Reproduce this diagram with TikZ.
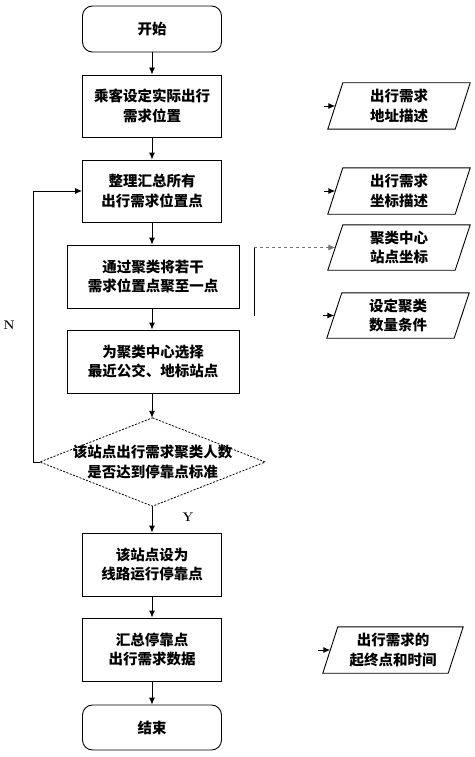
\documentclass[tikz,border=0pt]{standalone}
\usepackage{fontspec}
\newfontfamily\cjk{Noto Sans CJK SC}
\usetikzlibrary{arrows.meta,shapes.geometric,calc}
\newcommand\cjkf{\cjk\bfseries\fontsize{14.5}{19.5}\selectfont}
\newcommand\drawpara[1]{\draw[line width=0.9pt] ([xshift=15pt]#1.north west) -- (#1.north east) -- ([xshift=-15pt]#1.south east) -- (#1.south west) -- cycle;}
\begin{document}
\begin{tikzpicture}[x=1pt,y=-1pt,
  box/.style={draw, line width=0.9pt, minimum width=139pt, minimum height=62pt, align=center, font=\cjkf, inner sep=0pt},
  widebox/.style={box, minimum width=172pt, minimum height=63pt},
  term/.style={box, rounded corners=10pt, minimum height=46pt},
  para/.style={minimum width=142pt, minimum height=46pt, align=center, font=\cjkf, inner sep=0pt},
  decision/.style={minimum width=225pt, minimum height=88pt, inner sep=0pt, align=center, font=\cjkf},
  dotline/.style={line width=0.8pt, dash pattern=on 2pt off 1.5pt},
  arr/.style={line width=0.9pt, -{Latex[length=7pt,width=6pt]}},
  lab/.style={font=\bfseries\fontsize{12.5}{12.5}\selectfont}]
\useasboundingbox (0,0) rectangle (474,757);
% main column
\node[term] (start) at (152,29) {开始};
\node[box] (b1) at (152,106) {乘客设定实际出行\\需求位置};
\node[box] (b2) at (152,191) {整理汇总所有\\出行需求位置点};
\node[widebox] (b3) at (153,276.5) {通过聚类将若干\\需求位置点聚至一点};
\node[widebox] (b4) at (153,361.5) {为聚类中心选择\\最近公交、地标站点};
\node[decision] (d) at (152.5,462) {该站点出行需求聚类人数\\是否达到停靠点标准};
\draw[dotline] (d.north) -- (d.east) -- (d.south) -- (d.west) -- cycle;
\node[box, minimum height=63pt] (b5) at (152,564.5) {该站点设为\\线路运行停靠点};
\node[box, minimum height=63pt] (b6) at (152,649.5) {汇总停靠点\\出行需求数据};
\node[term, minimum height=45pt] (end) at (152,727.5) {结束};
\draw[arr] (start) -- (b1);
\draw[arr] (b1) -- (b2);
\draw[arr] (b2.south) -- (b2.south |- b3.north);
\draw[arr] (b3.south -| b2.south) -- (b2.south |- b4.north);
\draw[arr] (b4.south -| b2.south) -- (b2.south |- d.north);
\draw[arr] (b2.south |- d.south) -- (b5.north);
\draw[arr] (b5) -- (b6);
\draw[arr] (b6) -- (end);
\node[lab] (ylab) at (188,517) {Y};
% N loop
\coordinate (nl) at (33,462);
\draw[arr] (d.west) -- (nl) |- (b2.west);
\node[lab] (nlab) at (9,325) {N};
% data parallelograms
\node[para] (p1) at (399,106) {出行需求\\地址描述};
\node[para] (p2) at (399,191) {出行需求\\坐标描述};
\node[para, minimum height=45pt] (p3) at (399,247.5) {聚类中心\\站点坐标};
\node[para, minimum height=45pt] (p4) at (398,315.5) {设定聚类\\数量条件};
\node[para, minimum width=140pt] (p5) at (393,650) {出行需求的\\起终点和时间};
\drawpara{p1}\drawpara{p2}\drawpara{p3}\drawpara{p4}\drawpara{p5}
\coordinate (s1) at (324,106);
\coordinate (s2) at (324,191);
\coordinate (s4) at (323,315.5);
\coordinate (s5) at (318,650);
\draw[arr] (s1) -- ([xshift=7.5pt]p1.west);
\draw[arr] (s2) -- ([xshift=7.5pt]p2.west);
\draw[arr] (s4) -- ([xshift=7.5pt]p4.west);
\draw[arr] (s5) -- ([xshift=7.5pt]p5.west);
\coordinate (br1) at (254,247.5);
\coordinate (br2) at (254,316);
\draw[arr, draw=black!55, dashed] (br1) -- ([xshift=7.5pt]p3.west);
\draw[line width=0.9pt] (br1) -- (br2);
\end{tikzpicture}
\end{document}
